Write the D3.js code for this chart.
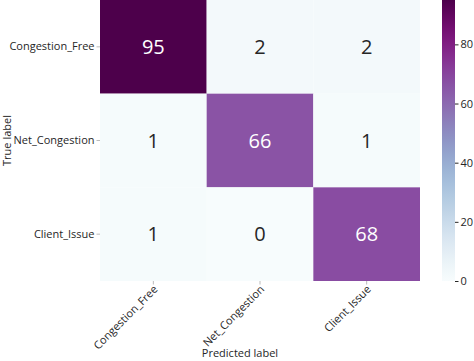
<!DOCTYPE html>
<html>
<head>
<meta charset="utf-8">
<script src="https://cdn.jsdelivr.net/npm/d3@7"></script>
<style>
  body { margin: 0; background: #fff; }
  svg { display: block; font-family: "Open Sans", sans-serif; }
</style>
</head>
<body>
<div id="chart"></div>
<script>
// -------- Data --------
const trueLabels = ["Congestion_Free", "Net_Congestion", "Client_Issue"];
const predLabels = ["Congestion_Free", "Net_Congestion", "Client_Issue"];
const counts = [
  [95, 2, 2],
  [1, 66, 1],
  [1, 0, 68]
];
const colorbarTicks = [0, 20, 40, 60, 80];

// -------- Layout --------
const W = 474, H = 361;
const plot = { left: 100, right: 420, top: 0, bottom: 281 };
const cbar = { left: 442, right: 455 };

const cells = [];
counts.forEach((row, i) => row.forEach((v, j) => cells.push({ t: trueLabels[i], p: predLabels[j], v })));

const vmax = d3.max(cells, d => d.v);
const color = d3.scaleSequential(d3.interpolateBuPu).domain([0, vmax]);

const svg = d3.select("#chart").append("svg")
  .attr("width", W)
  .attr("height", H);

const x = d3.scaleBand().domain(predLabels).range([plot.left, plot.right]);
const y = d3.scaleBand().domain(trueLabels).range([plot.top, plot.bottom]);

// cells
svg.append("g").selectAll("rect")
  .data(cells)
  .join("rect")
  .attr("x", d => x(d.p))
  .attr("y", d => y(d.t))
  .attr("width", x.bandwidth())
  .attr("height", y.bandwidth())
  .attr("fill", d => color(d.v));

// annotations
svg.append("g").selectAll("text")
  .data(cells)
  .join("text")
  .attr("x", d => x(d.p) + x.bandwidth() / 2)
  .attr("y", d => y(d.t) + y.bandwidth() / 2)
  .attr("dy", "0.36em")
  .attr("text-anchor", "middle")
  .attr("font-size", 20)
  .attr("fill", d => d.v > vmax * 0.5 ? "#ffffff" : "#262626")
  .text(d => d.v);

// y axis
const yAxis = svg.append("g")
  .attr("transform", `translate(${plot.left},0)`)
  .call(d3.axisLeft(y).tickSize(3.5).tickPadding(2))
  .attr("font-family", null)
  .attr("font-size", null);
yAxis.select(".domain").remove();
yAxis.selectAll("line").attr("stroke", "#bbb");
yAxis.selectAll("text").attr("font-size", 11).attr("fill", "#262626");

// x axis
const xAxis = svg.append("g")
  .attr("transform", `translate(0,${plot.bottom})`)
  .call(d3.axisBottom(x).tickSize(3.5))
  .attr("font-family", null)
  .attr("font-size", null);
xAxis.select(".domain").remove();
xAxis.selectAll("line").attr("stroke", "#bbb");
xAxis.selectAll("text")
  .attr("font-size", 11)
  .attr("fill", "#262626")
  .attr("text-anchor", "end")
  .attr("dy", null)
  .attr("y", null)
  .attr("transform", "translate(5,9) rotate(-45)");

// axis titles
svg.append("text")
  .attr("x", 240)
  .attr("y", 357)
  .attr("text-anchor", "middle")
  .attr("font-size", 11)
  .attr("fill", "#262626")
  .text("Predicted label");

svg.append("text")
  .attr("transform", `translate(11,${(plot.top + plot.bottom) / 2}) rotate(-90)`)
  .attr("text-anchor", "middle")
  .attr("font-size", 11)
  .attr("fill", "#262626")
  .text("True label");

// colorbar
const cy = d3.scaleLinear().domain([0, vmax]).range([plot.bottom, plot.top]);
const defs = svg.append("defs");
const grad = defs.append("linearGradient")
  .attr("id", "cbar")
  .attr("x1", 0).attr("y1", 1).attr("x2", 0).attr("y2", 0);
grad.selectAll("stop")
  .data(d3.range(0, 1.0001, 0.05))
  .join("stop")
  .attr("offset", d => d)
  .attr("stop-color", d => color(d * vmax));

svg.append("rect")
  .attr("x", cbar.left)
  .attr("y", cy(vmax))
  .attr("width", cbar.right - cbar.left)
  .attr("height", cy(0) - cy(vmax))
  .attr("fill", "url(#cbar)");

const cAxis = svg.append("g")
  .attr("transform", `translate(${cbar.right},0)`)
  .call(d3.axisRight(cy).tickValues(colorbarTicks).tickSize(3.5).tickPadding(2))
  .attr("font-family", null)
  .attr("font-size", null);
cAxis.select(".domain").remove();
cAxis.selectAll("line").attr("stroke", "#262626");
cAxis.selectAll("text").attr("font-size", 11).attr("fill", "#262626");
</script>
</body>
</html>
